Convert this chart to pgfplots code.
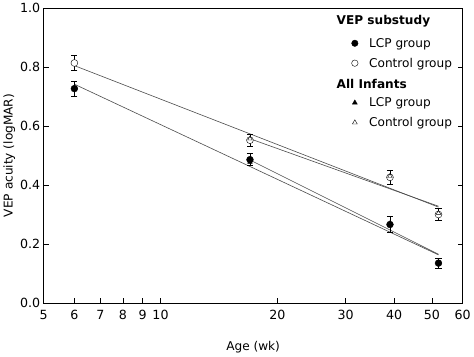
\documentclass[border=0pt]{standalone}
\usepackage{fontspec}
\setmainfont{DejaVu Sans}
\usepackage{pgfplots}
\pgfplotsset{compat=1.18}
\begin{document}
\begin{tikzpicture}
\begin{axis}[
  scale only axis, width=415pt, height=292pt,
  xmode=log, xmin=5, xmax=60, ymin=0, ymax=1,
  xtick={5,6,7,8,9,10,20,30,40,50,60},
  xticklabels={5,6,7,8,9,10,20,30,40,50,60},
  minor xtick={},
  ytick={0,0.2,0.4,0.6,0.8,1.0},
  yticklabel style={/pgf/number format/fixed,/pgf/number format/precision=1,/pgf/number format/fixed zerofill},
  /pgf/number format/assume math mode=true,
  tick align=inside, xtick pos=bottom, ytick pos=both,
  major tick length=5pt,
  tick style={black, line width=0.6pt},
  axis line style={line width=0.8pt},
  font=\fontsize{12}{14}\selectfont,
  ticklabel style={font=\fontsize{12.5}{14}\selectfont},
  xticklabel style={yshift=-4pt},
  xlabel={Age (wk)}, ylabel={VEP acuity (logMAR)},
  xlabel style={yshift=-14pt},
  ylabel style={yshift=-2pt},
  legend style={at={(axis description cs:0.7145,0.913)}, anchor=north west, draw=none, fill=none,
    font=\fontsize{12}{14}\selectfont, row sep=5.2pt},
  legend cell align=left,
]
% regression lines
\addplot[black!70, line width=0.6pt, forget plot] coordinates {(6,0.805) (52,0.325)};
\addplot[black!70, line width=0.6pt, forget plot] coordinates {(6,0.742) (52,0.163)};
\addplot[black!70, line width=0.6pt, forget plot] coordinates {(17,0.557) (52,0.328)};
\addplot[black!70, line width=0.6pt, forget plot] coordinates {(17,0.485) (52,0.165)};
% VEP substudy with error bars
\addplot[only marks, mark=*, mark size=3.4pt, black, forget plot,
  error bars/.cd, y dir=both, y explicit, error bar style={black, line width=0.6pt}, error mark options={rotate=90, black, mark size=3pt, line width=0.6pt}]
  table[x=x, y=y, y error=e] {
x y e
6 0.727 0.026
17 0.486 0.020
39 0.266 0.027
52 0.135 0.018
};
\addplot[only marks, mark=*, mark size=3.4pt, black, mark options={fill=white}, forget plot,
  error bars/.cd, y dir=both, y explicit, error bar style={black, line width=0.6pt}, error mark options={rotate=90, black, mark size=3pt, line width=0.6pt}]
  table[x=x, y=y, y error=e] {
x y e
6 0.814 0.025
17 0.552 0.020
39 0.426 0.024
52 0.300 0.020
};
% All infants
\addplot[only marks, mark=triangle*, mark size=2.6pt, black, forget plot] coordinates {(17,0.478) (39,0.270) (52,0.137)};
\addplot[only marks, mark=triangle, mark size=2.6pt, black, forget plot] coordinates {(17,0.557) (39,0.430) (52,0.305)};
% headings
\node[anchor=west, font=\fontsize{12}{14}\selectfont\bfseries, inner sep=0pt] at (axis description cs:0.699,0.955) {VEP substudy};
\node[anchor=west, font=\fontsize{12}{14}\selectfont\bfseries, inner sep=0pt] at (axis description cs:0.699,0.743) {All Infants};
% legend
\addlegendimage{only marks, mark=*, mark size=3.2pt, black}
\addlegendentry{\hspace*{9pt}LCP group}
\addlegendimage{only marks, mark=o, mark size=3.2pt, black}
\addlegendentry{\hspace*{9pt}Control group}
\addlegendimage{empty legend}
\addlegendentry{\vphantom{Lp}}
\addlegendimage{only marks, mark=triangle*, mark size=2.8pt, black}
\addlegendentry{\hspace*{9pt}LCP group}
\addlegendimage{only marks, mark=triangle, mark size=2.8pt, black}
\addlegendentry{\hspace*{9pt}Control group}
\end{axis}
\end{tikzpicture}
\end{document}
